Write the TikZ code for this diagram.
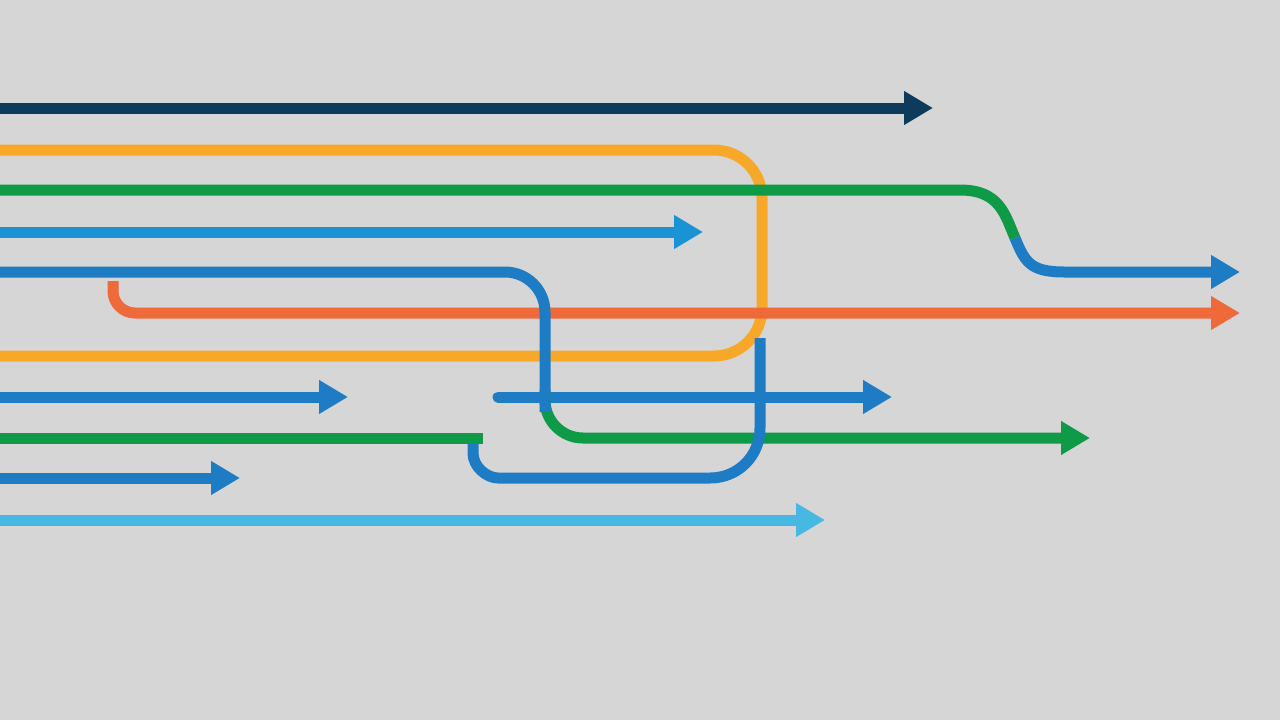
\documentclass[tikz,border=0pt]{standalone}
\usetikzlibrary{arrows.meta}
\definecolor{bggrey}{HTML}{D6D6D6}
\definecolor{navy}{HTML}{0E3B5C}
\definecolor{amber}{HTML}{F7A828}
\definecolor{leaf}{HTML}{0E9A47}
\definecolor{sky}{HTML}{1A93D4}
\definecolor{ocean}{HTML}{1E7CC5}
\definecolor{coral}{HTML}{EF6A3A}
\definecolor{aqua}{HTML}{47B8E2}
\begin{document}
\begin{tikzpicture}[x=0.1mm,y=-0.1mm,
  ln/.style={line width=1.1mm},
  arr/.style={ln,-{Triangle[length=2.9mm,width=3.2mm]}}]
\useasboundingbox(0,0)rectangle(1280,720);
\fill[bggrey](0,0)rectangle(1280,720);
%
\draw[ln,amber,rounded corners=4.8mm](0,150)--(762,150)--(762,356)--(0,356);
\draw[arr,navy](0,108)--(933,108);
\draw[ln,leaf](0,190)--(960,190)..controls(1000,190)and(1005,215)..(1015,238);
\draw[arr,ocean](1015,238)..controls(1025,262)and(1030,272)..(1065,272)--(1240,272);
\draw[arr,sky](0,232)--(703,232);
\draw[arr,coral,rounded corners=2.2mm](113,281)--(113,313)--(1240,313);
%
\draw[arr,ocean](0,397)--(348,397);
\draw[arr,ocean,line cap=round](498,397)--(892,397);
\draw[arr,leaf,rounded corners=3.8mm](545,390)--(545,438)--(1090,438);
\draw[ln,ocean,rounded corners=4mm](0,272)--(545,272)--(545,412);
%
\draw[ln,ocean](473,436)--(473,453)..controls(473,467)and(487,478)..(498,478)
  --(710,478)..controls(738,478)and(760,456)..(760,428)--(760,338);
\draw[ln,leaf](0,438)--(483,438);
\draw[arr,ocean](0,478)--(240,478);
\draw[arr,aqua](0,520)--(825,520);
\end{tikzpicture}
\end{document}
